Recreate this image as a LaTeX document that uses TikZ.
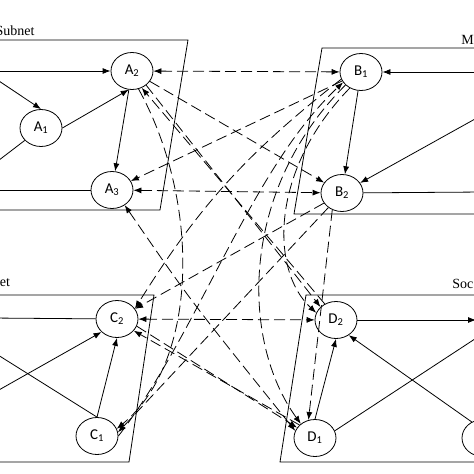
\documentclass[tikz,border=0pt]{standalone}
\usepackage{fontspec}
\setmainfont{Liberation Serif}
\newfontfamily\nodefont{Carlito}
\usetikzlibrary{arrows.meta,shapes.geometric}
\tikzset{
  every picture/.style={line width=0.8pt},
  subnode/.style={ellipse,draw,minimum width=42pt,minimum height=37pt,inner sep=0pt,
    font=\nodefont\fontsize{15}{17}\selectfont},
  link/.style={-{Latex[length=8pt,width=6pt]}},
  twoway/.style={{Latex[length=8pt,width=6pt]}-{Latex[length=8pt,width=6pt]}},
  cross/.style={dash pattern=on 11pt off 5pt},
  netlabel/.style={font=\fontsize{14}{16}\selectfont,inner sep=0pt},
}
\begin{document}
\begin{tikzpicture}[x=1pt,y=-1pt]
  \useasboundingbox (0,0) rectangle (474,474);
  \clip (0,0) rectangle (474,474);
  % subnet frames
  \draw (-20,40) -- (188,40) -- (160,210) -- (-20,210);
  \draw (494,48) -- (322,48) -- (294,214) -- (494,214);
  \draw (-20,295) -- (154,295) -- (129,462) -- (-20,462);
  \draw (494,295) -- (306,295) -- (280,462) -- (494,462);
  \node[netlabel,anchor=base east] (labA) at (35,35) {Subnet};
  \node[netlabel,anchor=base west] (labB) at (461,44) {M};
  \node[netlabel,anchor=base east] (labC) at (10.5,286) {Subnet};
  \node[netlabel,anchor=base west] (labD) at (452,288) {Soc};
  % nodes
  \node[subnode] (A1) at (41,128) {A\textsubscript{1}};
  \node[subnode] (A2) at (132,71) {A\textsubscript{2}};
  \node[subnode] (A3) at (112,190) {A\textsubscript{3}};
  \node[subnode] (B1) at (361,72) {B\textsubscript{1}};
  \node[subnode] (B2) at (342,193) {B\textsubscript{2}};
  \node[subnode] (C2) at (117,319) {C\textsubscript{2}};
  \node[subnode] (C1) at (97,436) {C\textsubscript{1}};
  \node[subnode] (D2) at (336,320) {D\textsubscript{2}};
  \node[subnode] (D1) at (315,438) {D\textsubscript{1}};
  \node[subnode] (E) at (483,438) {};
  % free ends at the border
  \coordinate (inA2) at (-10,71);
  \coordinate (inA1) at (-10,75);
  \coordinate (outA1) at (-10,167);
  \coordinate (outA3) at (-10,190);
  \coordinate (inB1) at (484,72);
  \coordinate (inB2) at (484,114);
  \coordinate (outB2) at (484,192);
  \coordinate (outC2) at (-10,318);
  \coordinate (inC2) at (-10,395);
  \coordinate (inC1) at (-10,350);
  \coordinate (outD2) at (476,320);
  \coordinate (outD1) at (484,333);
  % links inside the subnets
  \draw[link] (inA2) -- (A2);
  \draw[link] (inA1) -- (A1.north);
  \draw[link] (A1.east) -- (A2.260);
  \draw (A1) -- (outA1);
  \draw[link] (A2) -- (A3);
  \draw (A3) -- (outA3);
  \draw[link] (inB1) -- (B1);
  \draw[link] (B1) -- (B2);
  \draw[link] (inB2) -- (B2);
  \draw (B2) -- (outB2);
  \draw (C2) -- (outC2);
  \draw[link] (inC2) -- (C2.220);
  \draw (inC1) -- (C1.north);
  \draw[link] (C1.north) -- (C2.south);
  \draw[link] (D2) -- (outD2);
  \draw[link] (D1.north) -- (D2.south);
  \draw[link] (E.125) -- (D2.310);
  \draw (D1.20) -- (outD1);
  % links across the subnets
  \draw[cross,twoway] (A2) -- (B1);
  \draw[cross,twoway] (A3) -- (B2);
  \draw[cross,twoway] (C2) -- (D2);
  \draw[cross,link] (A2) -- (B2);
  \draw[cross,link] (B1) -- (A3);
  \draw[cross,link] (B1.200) to[bend right=10] (C2.30);
  \draw[cross,link] (B2) -- (C2);
  \draw[cross,link] (C1.east) .. controls (200,330) and (250,170) .. (B1.210);
  \draw[cross,link] (B2) -- (C1.10);
  \draw[cross,link] (A2.-45) -- (D2.140);
  \draw[cross,link] (D2.125) -- (A2.-60);
  \draw[cross,link] (A2.-70) .. controls (200,200) and (200,360) .. (C1.20);
  \draw[cross,twoway] (A3.-50) .. controls (190,300) .. (D1.160);
  \draw[cross,link] (C2.-20) -- (D1.150);
  \draw[cross,link] (D1.140) -- (C2.-35);
  \draw[cross,link] (B1.220) .. controls (240,190) and (240,340) .. (D1.135);
  \draw[cross,link] (B2.240) -- (D1.110);
  \draw[cross,link] (B1.235) .. controls (270,170) and (270,270) .. (D2.160);
\end{tikzpicture}
\end{document}
